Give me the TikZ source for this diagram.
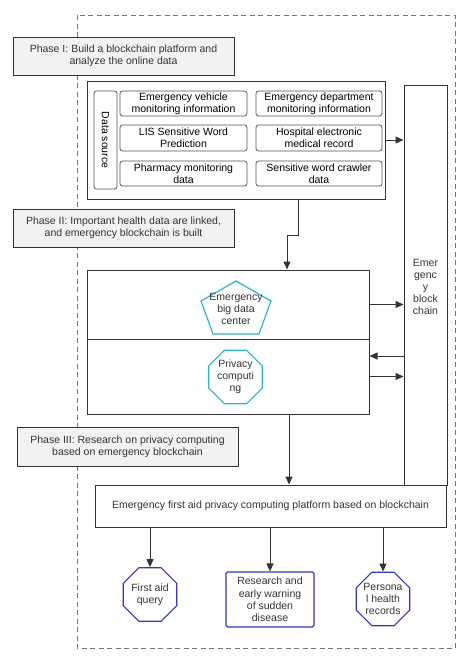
\documentclass[tikz,border=0pt]{standalone}
\usepackage{fontspec}
\setmainfont{Liberation Sans}
\usepackage{xcolor}
\usetikzlibrary{calc, arrows.meta, positioning, shapes.geometric}
\definecolor{linegray}{HTML}{333333}
\definecolor{dashgray}{HTML}{777777}
\definecolor{boxfill}{HTML}{F2F2F2}
\definecolor{tealline}{HTML}{30B4C4}
\definecolor{blueline}{HTML}{3434C8}

\begin{document}
\begin{tikzpicture}[x=1pt, y=-1pt,
    font=\fontsize{10.5}{12.2}\selectfont, text=linegray,
    phase/.style={draw=linegray, fill=boxfill, line width=1pt, align=center, minimum width=221pt, minimum height=38pt, inner sep=0pt},
    frame/.style={draw=linegray, line width=1pt, inner sep=0pt},
    source/.style={draw=linegray!85, rounded corners=2.5pt, line width=0.8pt, align=center, minimum width=127pt, minimum height=25pt, inner sep=0pt, text=black},
    octa/.style={regular polygon, regular polygon sides=8, draw=#1, line width=1.2pt, minimum size=58pt, inner sep=-3pt, align=center},
    arr/.style={draw=linegray, line width=1pt, -{Triangle[length=8pt, width=7pt]}}]
    \useasboundingbox (0,0) rectangle (474,662);

    % Outer dashed frame
    \draw[dashgray, line width=1pt, dash pattern=on 5pt off 3.5pt] (77,15) rectangle (455,648);

    % Phase boxes
    \node[phase] (phaseone) at (123.5,56) {Phase I: Build a blockchain platform and\\analyze the online data};
    \node[phase] (phasetwo) at (123.5,228) {Phase II: Important health data are linked,\\and emergency blockchain is built};
    \node[phase, minimum height=39pt] (phasethree) at (127.5,446.5) {Phase III: Research on privacy computing\\based on emergency blockchain};

    % Data sources
    \node[frame, minimum width=298pt, minimum height=118pt] (datasrc) at (236,140) {};
    \node[draw=linegray!85, rounded corners=2.5pt, line width=0.8pt, rotate=-90, minimum width=98pt, minimum height=23pt, inner sep=0pt, text=black] (srclabel) at (105.5,140) {Data source};
    \node[source] (vehicle) at (183.5,103.5) {Emergency vehicle\\monitoring information};
    \node[source, minimum width=126pt] (dept) at (319,103.5) {Emergency department\\monitoring information};
    \node[source, minimum height=26pt] (lis) at (183.5,138) {LIS Sensitive Word\\Prediction};
    \node[source, minimum width=126pt, minimum height=26pt] (emr) at (319,138) {Hospital electronic\\medical record};
    \node[source] (pharmacy) at (183.5,173.5) {Pharmacy monitoring\\data};
    \node[source, minimum width=126pt] (crawler) at (319,173.5) {Sensitive word crawler\\data};

    % Blockchain column
    \node[frame, minimum width=43pt, minimum height=400pt] (chain) at (425.5,285) {};
    \node[align=center] (chainlabel) at (425.5,287) {Emer\\genc\\y\\block\\chain};

    % Big data center and privacy computing
    \node[frame, minimum width=282pt, minimum height=69pt] (upper) at (228,304.5) {};
    \node[frame, minimum width=282pt, minimum height=75pt] (lower) at (228,376.5) {};
    \draw[tealline, line width=1.2pt, line join=round] (236,281) -- (271,301) -- (259,334) -- (213,334) -- (201,301) -- cycle;
    \node[align=center] (bigdata) at (236,309) {Emergency\\big data\\center};
    \node[octa=tealline] (privacy) at (235.5,377) {Privacy\\computi\\ng};

    % Platform and applications
    \node[frame, minimum width=351pt, minimum height=42pt] (platform) at (270.5,506) {Emergency first aid privacy computing platform based on blockchain};
    \node[octa=blueline] (firstaid) at (150,594.5) {First aid\\query};
    \node[draw=blueline, line width=1.2pt, rounded corners=1.5pt, minimum width=88pt, minimum height=55pt, inner sep=0pt, align=center] (warning) at (270,599.5) {Research and\\early warning\\of sudden\\disease};
    \node[octa=blueline] (records) at (383,599) {Persona\\l health\\records};

    % Connectors
    \coordinate (bend) at (298,235);
    \draw[arr] (datasrc.east) -- (datasrc.east -| chain.west);
    \draw[arr] (datasrc.south -| bend) -- (bend) -- (bend -| 287,0) -- (upper.north -| 287,0);
    \draw[arr] (upper.east) -- (upper.east -| chain.west);
    \draw[arr] (chain.west |- 0,356) -- (lower.east |- 0,356);
    \draw[arr] (lower.east) -- (lower.east -| chain.west);
    \draw[arr] (lower.south -| 289,0) -- (platform.north -| 289,0);
    \draw[arr] (platform.south -| firstaid.north) -- (firstaid.north);
    \draw[arr] (platform.south -| warning.north) -- (warning.north);
    \draw[arr] (platform.south -| records.north) -- (records.north);
\end{tikzpicture}
\end{document}
